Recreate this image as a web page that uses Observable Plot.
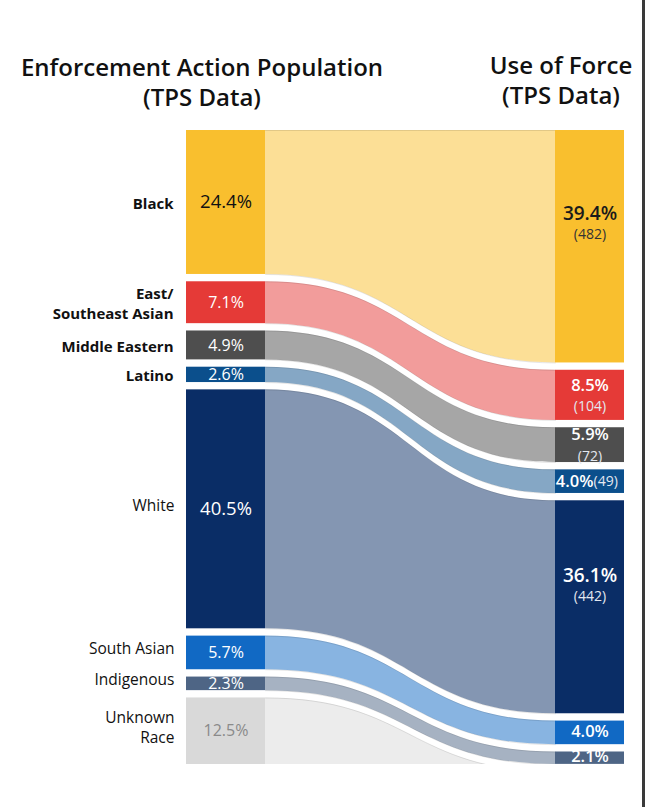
<!DOCTYPE html>
<html>
<head>
<meta charset="utf-8">
<script src="https://cdn.jsdelivr.net/npm/d3@7"></script>
<script src="https://cdn.jsdelivr.net/npm/@observablehq/plot@0.6"></script>
<style>
  body { margin: 0; background: #fff; font-family: "Open Sans", sans-serif; }
  #page { position: relative; width: 646px; height: 807px; overflow: hidden; }
  .head { position: relative; height: 120px; }
  .title {
    position: absolute; transform: translateX(-50%);
    font-size: 24px; font-weight: 600; line-height: 30px;
    text-align: center; white-space: nowrap; color: #111;
  }
  #edge { position: absolute; left: 642px; top: 0; width: 2.5px; height: 807px; background: #3a3a3a; }
</style>
</head>
<body>
<div id="page">
  <div class="head">
    <div class="title" style="left:202px; top:52px">Enforcement Action Population<br>(TPS Data)</div>
    <div class="title" style="left:561px; top:50px">Use of Force<br>(TPS Data)</div>
  </div>
  <div id="chart"></div>
  <div id="edge"></div>
</div>
<script>
// Race groups, top to bottom
const categories = ["Black", "East/Southeast Asian", "Middle Eastern", "Latino", "White", "South Asian", "Indigenous", "Unknown Race"];
const categoryLabels = ["Black", "East/\nSoutheast Asian", "Middle Eastern", "Latino", "White", "South Asian", "Indigenous", "Unknown\nRace"];

// Share of the enforcement action population (%)
const enforcementPct = [24.4, 7.1, 4.9, 2.6, 40.5, 5.7, 2.3, 12.5];
// Share of use-of-force incidents (%) and incident counts
const forcePct = [39.4, 8.5, 5.9, 4.0, 36.1, 4.0, 2.1, null];
const forceCount = [482, 104, 72, 49, 442, null, null, null];

// Palette, one colour per group
const barColors = ["#F9BF2E", "#E53A37", "#4E4E4E", "#0B4F8C", "#0A2D66", "#1169C4", "#4E6585", "#D9D9D9"];
const boldLabels = new Set(["Black", "East/Southeast Asian", "Middle Eastern", "Latino"]);

// Layout
const GAP = 1.24;              // space between stacked bands, in percentage points
const Y_MAX = 107.46;          // visible depth of the stack
const LEFT = [186, 265];       // left column x-extent (px)
const RIGHT = [555, 624];      // right column x-extent (px)

function stack(values, fallback) {
  let acc = 0;
  return values.map((v, i) => {
    const h = v ?? fallback[i];
    const band = {y1: acc, y2: acc + h};
    acc += h + GAP;
    return band;
  });
}
const leftBands = stack(enforcementPct, enforcementPct);
const rightBands = stack(forcePct, enforcementPct);

const rows = categories.map((c, i) => ({
  category: c,
  label: categoryLabels[i],
  color: barColors[i],
  left: enforcementPct[i],
  right: forcePct[i],
  count: forceCount[i],
  l1: leftBands[i].y1, l2: leftBands[i].y2,
  r1: rightBands[i].y1, r2: rightBands[i].y2
}));

const ribbons = rows.flatMap(d => [
  {category: d.category, color: d.color, x: LEFT[1], y1: d.l1, y2: d.l2},
  {category: d.category, color: d.color, x: RIGHT[0], y1: d.r1, y2: d.r2}
]);

const rightRows = rows.filter(d => d.right != null);
const pct = v => v.toFixed(1) + "%";
const at = v => () => v;
const leftMid = d => (d.l1 + Math.min(d.l2, Y_MAX)) / 2;
// large bands carry their label a little above centre
const rightMid = d => d.r1 + (d.r2 - d.r1) * (d.right > 15 ? 0.4 : 0.5);
const leftValueFill = d => d.category === "Black" ? "#111" : d.category === "Unknown Race" ? "#8a8a8a" : "#fff";
const rightValueFill = d => d.category === "Black" ? "#1a1a1a" : "#fff";
const rightCountFill = d => d.category === "Black" ? "#333" : "#e4e8f0";
const stacked = d => d.count != null && d.right >= 5;
const inline = d => d.count != null && d.right < 5;
const bare = d => d.count == null;

const chart = Plot.plot({
  width: 646,
  height: 687,
  marginTop: 10,
  marginBottom: 43,
  marginLeft: 0,
  marginRight: 0,
  style: {fontFamily: "Open Sans, sans-serif", background: "#fff"},
  x: {type: "identity", axis: null},
  y: {domain: [0, Y_MAX], reverse: true, axis: null},
  color: {type: "identity"},
  marks: [
    // flows between the two columns
    Plot.area(ribbons, {x1: "x", y1: "y1", y2: "y2", z: "category", fill: "color", fillOpacity: 0.5, curve: "bump-x", clip: true}),
    Plot.line(ribbons, {x: "x", y: "y1", z: "category", stroke: "#000", strokeOpacity: 0.1, strokeWidth: 1, curve: "bump-x", clip: true}),
    Plot.line(ribbons, {x: "x", y: "y2", z: "category", stroke: "#000", strokeOpacity: 0.1, strokeWidth: 1, curve: "bump-x", clip: true}),
    // enforcement population column
    Plot.rect(rows, {x1: at(LEFT[0]), x2: at(LEFT[1]), y1: "l1", y2: "l2", fill: "color", clip: true}),
    // use-of-force column
    Plot.rect(rightRows, {x1: at(RIGHT[0]), x2: at(RIGHT[1]), y1: "r1", y2: "r2", fill: "color", clip: true}),
    // group names
    Plot.text(rows.filter(d => boldLabels.has(d.category)), {
      x: at(LEFT[0] - 13), y: leftMid, text: "label", textAnchor: "end",
      fontSize: 15, fontWeight: 700, fill: "#111", lineHeight: 1.3, clip: true
    }),
    Plot.text(rows.filter(d => !boldLabels.has(d.category)), {
      x: at(LEFT[0] - 12), y: leftMid, text: "label", textAnchor: "end",
      fontSize: 15.5, fontWeight: 400, fill: "#111", lineHeight: 1.32, dy: -5, clip: true
    }),
    // enforcement shares
    Plot.text(rows, {
      x: at((LEFT[0] + LEFT[1]) / 2), y: leftMid, text: d => pct(d.left),
      fontSize: d => d.left > 20 ? 18.5 : 16, fill: leftValueFill, clip: true
    }),
    // use-of-force shares above their counts
    Plot.text(rightRows.filter(stacked), {
      x: at((RIGHT[0] + RIGHT[1]) / 2), y: rightMid, text: d => pct(d.right),
      dy: -10, fontSize: d => d.right > 20 ? 19 : 16.5, fontWeight: 600, fill: rightValueFill, clip: true
    }),
    Plot.text(rightRows.filter(stacked), {
      x: at((RIGHT[0] + RIGHT[1]) / 2), y: rightMid, text: d => `(${d.count})`,
      dy: 11, fontSize: 14, fill: rightCountFill, clip: true
    }),
    // shares shown without a count
    Plot.text(rightRows.filter(bare), {
      x: at((RIGHT[0] + RIGHT[1]) / 2), y: rightMid, text: d => pct(d.right),
      dy: -1, fontSize: 16.5, fontWeight: 600, fill: "#fff", clip: true
    }),
    // narrow band: share and count on one line
    Plot.text(rightRows.filter(inline), {
      x: at(RIGHT[0] + 38), y: rightMid, text: d => pct(d.right), textAnchor: "end",
      fontSize: 16.5, fontWeight: 600, fill: "#fff", clip: true
    }),
    Plot.text(rightRows.filter(inline), {
      x: at(RIGHT[0] + 38), y: rightMid, text: d => `(${d.count})`, textAnchor: "start",
      fontSize: 14, fill: "#e4e8f0", clip: true
    })
  ]
});
document.getElementById("chart").appendChild(chart);
</script>
</body>
</html>
